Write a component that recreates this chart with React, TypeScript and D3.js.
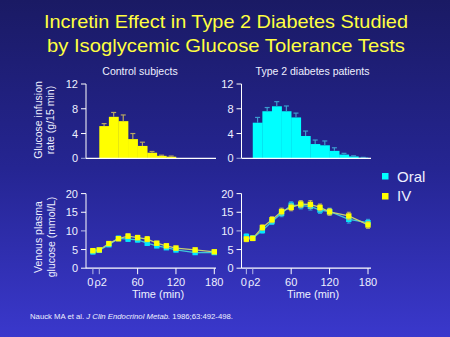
import React from "react";
import * as d3 from "d3";

const titleLines = ["Incretin Effect in Type 2 Diabetes Studied", "by Isoglycemic Glucose Tolerance Tests"];
const panelTitles = ["Control subjects", "Type 2 diabetes patients"];

// Glucose infusion (g/15 min) per 15-min interval
const controlInfusion = [5.2, 6.7, 6.0, 3.1, 2.0, 0.9, 0.4, 0.26];
const controlInfusionErr = [0.4, 0.7, 1.0, 0.9, 0.6, 0.2, 0.1, 0.1];
const t2Infusion = [5.75, 7.6, 8.4, 7.6, 6.6, 3.6, 2.3, 2.1, 1.2, 0.6, 0.3, 0.1];
const t2InfusionErr = [0.85, 0.6, 0.75, 0.85, 0.7, 0.8, 0.65, 0.7, 0.5, 0.2, 0.1, 0.05];

// Venous plasma glucose (mmol/L)
const times = [-10, 0, 15, 30, 45, 60, 75, 90, 105, 120, 150, 180];
const controlOral = [4.4, 4.8, 6.3, 8.0, 7.8, 7.6, 6.7, 6.0, 5.5, 4.9, 4.2, 4.2];
const controlOralErr = [0.6, 0.4, 0.5, 0.6, 0.6, 0.6, 0.6, 0.5, 0.5, 0.5, 0.5, 0.4];
const controlIV = [4.7, 4.9, 6.6, 7.9, 8.6, 8.2, 7.8, 6.7, 6.0, 5.4, 4.9, 4.4];
const controlIVErr = [0.5, 0.4, 0.5, 0.5, 0.6, 0.6, 0.7, 0.5, 0.5, 0.5, 0.5, 0.4];
const t2Oral = [8.5, 8.1, 10.1, 12.5, 14.7, 16.9, 16.8, 16.6, 15.6, 15.2, 13.1, 12.2];
const t2OralErr = [0.7, 0.6, 0.7, 0.8, 0.9, 0.9, 0.9, 1.0, 0.9, 0.9, 1.0, 0.9];
const t2IV = [7.8, 8.0, 10.9, 13.0, 15.2, 16.3, 17.2, 17.1, 16.3, 15.1, 14.0, 11.6];
const t2IVErr = [0.7, 0.6, 0.7, 0.8, 0.9, 0.9, 0.9, 1.0, 0.9, 0.9, 1.0, 0.9];

const infusionTicks = [0, 4, 8, 12];
const glucoseTicks = [0, 5, 10, 15, 20];
const timeTicks = [-10, 0, 60, 120, 180];
const timeTickLabels = ["0", "ρ2", "60", "120", "180"];
const legendItems = [
  { label: "Oral", color: "#00ffff" },
  { label: "IV", color: "#ffff00" },
];
const citation = ["Nauck MA et al. ", "J Clin Endocrinol Metab.", " 1986;63:492-498."];

const FONT = "Liberation Sans, Arial, sans-serif";
const TXT = "#eef0ff";

export default function App() {
  const cols = [
    { x: d3.scaleLinear().domain([-20.8, 180]).range([86, 214.3]), axisEnd: 216 },
    { x: d3.scaleLinear().domain([-17.6, 180]).range([241.5, 368]), axisEnd: 371 },
  ];
  const yTop = d3.scaleLinear().domain([0, 12]).range([158.3, 84]);
  const yBot = d3.scaleLinear().domain([0, 20]).range([268.2, 193.6]);

  const infusion = [
    { vals: controlInfusion, errs: controlInfusionErr, color: "#ffff00", err: "#b8a860" },
    { vals: t2Infusion, errs: t2InfusionErr, color: "#00ffff", err: "#3c9ccf" },
  ];
  const glucose = [
    [
      { vals: controlOral, errs: controlOralErr, color: "#00e8ff", line: "#40c8d8", err: "#30a8e0" },
      { vals: controlIV, errs: controlIVErr, color: "#ffff00", line: "#c8d070", err: "#c8b860" },
    ],
    [
      { vals: t2Oral, errs: t2OralErr, color: "#00e8ff", line: "#40c8d8", err: "#30a8e0" },
      { vals: t2IV, errs: t2IVErr, color: "#ffff00", line: "#c8d070", err: "#c8b860" },
    ],
  ];
  const titleLens = [364, 358];

  return (
    <svg width={450} height={337} style={{ position: "absolute", left: 0, top: 0 }} fontFamily={FONT}>
      <defs>
        <linearGradient id="bg" x1="0" y1="0" x2="0" y2="1">
          <stop offset="0" stopColor="#1a1a64" />
          <stop offset="0.5" stopColor="#252592" />
          <stop offset="1" stopColor="#3a38cc" />
        </linearGradient>
      </defs>
      <rect x={0} y={0} width={450} height={337} fill="url(#bg)" />

      {titleLines.map((t, i) => (
        <text
          key={i}
          x={226}
          y={28.3 + i * 23.4}
          textAnchor="middle"
          fill="#ffff40"
          fontSize={19}
          textLength={titleLens[i]}
          lengthAdjust="spacingAndGlyphs"
        >
          {t}
        </text>
      ))}

      {panelTitles.map((t, i) => (
        <text key={i} x={i === 0 ? 140 : 312.5} y={75} textAnchor="middle" fill={TXT} fontSize={10.5}>
          {t}
        </text>
      ))}

      {/* y-axis titles */}
      <g fill={TXT} fontSize={10.5} textAnchor="middle">
        <text transform="translate(42,120) rotate(-90)">Glucose infusion</text>
        <text transform="translate(54,120) rotate(-90)">rate (g/15 min)</text>
        <text transform="translate(42,237) rotate(-90)">Venous plasma</text>
        <text transform="translate(55,237) rotate(-90)">glucose (mmol/L)</text>
      </g>

      {cols.map((c, ci) => {
        const x = c.x;
        const x0 = x.range()[0];
        const s = infusion[ci];
        const bw = x(15) - x(0);
        return (
          <g key={ci}>
            {/* top bars */}
            {s.vals.map((v, i) => {
              const bx = x(i * 15);
              return (
                <g key={i}>
                  <rect x={bx} y={yTop(v)} width={bw + 0.3} height={yTop(0) - yTop(v)} fill={s.color} />
                </g>
              );
            })}
            {s.vals.map((v, i) => {
              const cx = x(i * 15 + 7.5);
              const top = yTop(v + s.errs[i]);
              return (
                <g key={"e" + i} stroke={s.err} strokeWidth={1.2}>
                  <line x1={cx} x2={cx} y1={yTop(v)} y2={top} />
                  <line x1={cx - 2.5} x2={cx + 2.5} y1={top} y2={top} />
                </g>
              );
            })}
            {/* top axes */}
            <line x1={x0} x2={x0} y1={yTop(12)} y2={yTop(0)} stroke="#ffffff" strokeWidth={1} />
            <line x1={x0} x2={c.axisEnd} y1={yTop(0)} y2={yTop(0)} stroke="#ffffff" strokeWidth={1.2} />
            {infusionTicks.map((t) => (
              <g key={t}>
                <line x1={x0 - 5} x2={x0} y1={yTop(t)} y2={yTop(t)} stroke={t === 0 ? "#a0a8d8" : "#ffffff"} strokeWidth={1} />
                <text x={x0 - 8} y={yTop(t) + 4} textAnchor="end" fill={TXT} fontSize={11}>
                  {t}
                </text>
              </g>
            ))}

            {/* bottom line charts */}
            {glucose[ci].map((g, gi) => {
              const path = d3
                .line<number>()
                .x((_, i) => x(times[i]))
                .y((d) => yBot(d))(g.vals);
              return <path key={"l" + gi} d={path || ""} fill="none" stroke={g.line} strokeWidth={1.3} />;
            })}
            {glucose[ci].map((g, gi) => (
              <g key={"p" + gi}>
                {g.vals.map((v, i) => {
                  const px = x(times[i]);
                  const hi = yBot(v + g.errs[i]);
                  const lo = yBot(v - g.errs[i]);
                  return (
                    <g key={i}>
                      <g stroke={g.err} strokeWidth={1}>
                        <line x1={px} x2={px} y1={hi} y2={lo} />
                        <line x1={px - 2} x2={px + 2} y1={hi} y2={hi} />
                        <line x1={px - 2} x2={px + 2} y1={lo} y2={lo} />
                      </g>
                      <rect x={px - 2.7} y={yBot(v) - 2.7} width={5.4} height={5.4} fill={g.color} />
                    </g>
                  );
                })}
              </g>
            ))}
            <line x1={x0} x2={x0} y1={yBot(20)} y2={yBot(0)} stroke="#ffffff" strokeWidth={1} />
            <line x1={x0} x2={c.axisEnd} y1={yBot(0)} y2={yBot(0)} stroke="#ffffff" strokeWidth={1.2} />
            {glucoseTicks.map((t) => (
              <g key={t}>
                <line x1={x0 - 5} x2={x0} y1={yBot(t)} y2={yBot(t)} stroke={t === 10 ? "#c0c4e8" : "#ffffff"} strokeWidth={1} />
                <text x={x0 - 8} y={yBot(t) + 4} textAnchor="end" fill={TXT} fontSize={11}>
                  {t}
                </text>
              </g>
            ))}
            {timeTicks.map((t, i) => (
              <g key={t}>
                <line x1={x(t)} x2={x(t)} y1={yBot(0)} y2={yBot(0) + 6} stroke={i < 2 ? "#b8bce8" : "#ffffff"} strokeWidth={1} />
                <text
                  x={x(t) + (i === 0 ? -2.5 : i === 1 ? 1.5 : 0)}
                  y={yBot(0) + 18}
                  textAnchor="middle"
                  fill={TXT}
                  fontSize={11}
                >
                  {timeTickLabels[i]}
                </text>
              </g>
            ))}
            <text x={ci === 0 ? 158 : 313} y={298} textAnchor="middle" fill={TXT} fontSize={11}>
              Time (min)
            </text>
          </g>
        );
      })}

      {/* legend */}
      {legendItems.map((l, i) => (
        <g key={l.label}>
          <rect x={382} y={173 + i * 20} width={6.5} height={6.5} fill={l.color} />
          <text x={397} y={181.5 + i * 19} fill={TXT} fontSize={15}>
            {l.label}
          </text>
        </g>
      ))}

      <text x={30} y={319} fill={TXT} fontSize={7.2} textLength={203} lengthAdjust="spacingAndGlyphs">
        <tspan>{citation[0]}</tspan>
        <tspan fontStyle="italic">{citation[1]}</tspan>
        <tspan>{citation[2]}</tspan>
      </text>
    </svg>
  );
}
